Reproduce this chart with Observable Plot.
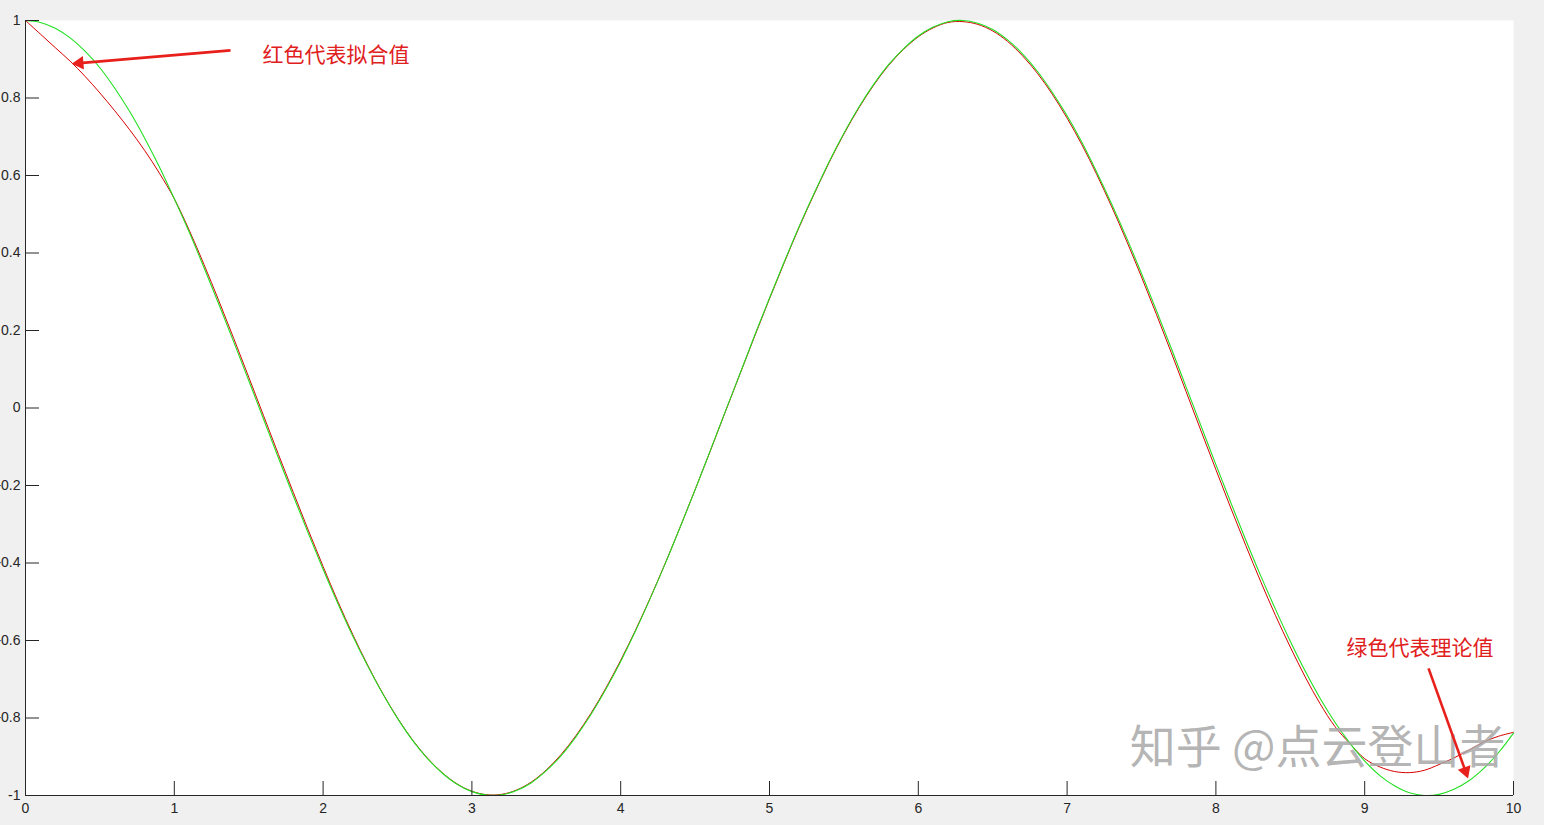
<!DOCTYPE html>
<html><head><meta charset="utf-8">
<script src="https://cdn.jsdelivr.net/npm/d3@7"></script>
<script src="https://cdn.jsdelivr.net/npm/@observablehq/plot@0.6"></script>
<style>html,body{margin:0;padding:0;background:#f0f0f0;overflow:hidden}#chart svg{display:block}</style>
</head><body><div id="chart"></div>
<script>
const xs = [0,0.1,0.2,0.3,0.4,0.5,0.6,0.7,0.8,0.9,1,1.1,1.2,1.3,1.4,1.5,1.6,1.7,1.8,1.9,2,2.1,2.2,2.3,2.4,2.5,2.6,2.7,2.8,2.9,3,3.1,3.2,3.3,3.4,3.5,3.6,3.7,3.8,3.9,4,4.1,4.2,4.3,4.4,4.5,4.6,4.7,4.8,4.9,5,5.1,5.2,5.3,5.4,5.5,5.6,5.7,5.8,5.9,6,6.1,6.2,6.3,6.4,6.5,6.6,6.7,6.8,6.9,7,7.1,7.2,7.3,7.4,7.5,7.6,7.7,7.8,7.9,8,8.1,8.2,8.3,8.4,8.5,8.6,8.7,8.8,8.9,9,9.1,9.2,9.3,9.4,9.5,9.6,9.7,9.8,9.9,10];
// green: theoretical values
const theory = [1.000,0.995,0.980,0.955,0.921,0.878,0.825,0.765,0.697,0.622,0.540,0.454,0.362,0.267,0.170,0.071,-0.029,-0.129,-0.227,-0.323,-0.416,-0.505,-0.589,-0.666,-0.737,-0.801,-0.857,-0.904,-0.942,-0.971,-0.990,-0.999,-0.998,-0.987,-0.967,-0.936,-0.897,-0.848,-0.791,-0.726,-0.654,-0.575,-0.490,-0.401,-0.307,-0.211,-0.112,-0.012,0.087,0.187,0.284,0.378,0.469,0.554,0.635,0.709,0.776,0.835,0.886,0.927,0.960,0.983,0.997,1.000,0.993,0.977,0.950,0.914,0.869,0.815,0.754,0.685,0.608,0.526,0.439,0.347,0.252,0.154,0.054,-0.046,-0.146,-0.244,-0.340,-0.432,-0.519,-0.602,-0.679,-0.749,-0.811,-0.865,-0.911,-0.948,-0.975,-0.993,-1.000,-0.997,-0.984,-0.962,-0.930,-0.889,-0.839];
// red: fitted values
const fitted = [1.000,0.965,0.930,0.895,0.856,0.813,0.767,0.718,0.665,0.606,0.540,0.459,0.370,0.276,0.179,0.080,-0.020,-0.120,-0.218,-0.315,-0.409,-0.500,-0.585,-0.664,-0.736,-0.800,-0.856,-0.903,-0.941,-0.970,-0.989,-0.998,-0.997,-0.986,-0.965,-0.934,-0.894,-0.845,-0.788,-0.723,-0.651,-0.573,-0.489,-0.400,-0.307,-0.211,-0.113,-0.013,0.086,0.185,0.282,0.376,0.467,0.552,0.633,0.707,0.774,0.833,0.884,0.925,0.958,0.981,0.995,0.997,0.990,0.973,0.946,0.909,0.864,0.810,0.748,0.679,0.602,0.519,0.431,0.338,0.242,0.143,0.042,-0.059,-0.159,-0.258,-0.354,-0.447,-0.535,-0.617,-0.694,-0.763,-0.822,-0.866,-0.905,-0.926,-0.938,-0.941,-0.935,-0.920,-0.903,-0.883,-0.862,-0.847,-0.837];
const xTicks = [0,1,2,3,4,5,6,7,8,9,10];
const yTicks = [-1,-0.8,-0.6,-0.4,-0.2,0,0.2,0.4,0.6,0.8,1];
const noteText = ["红色代表拟合值", "绿色代表理论值"];
const noteX = [1.593, 8.878];
const noteY = [0.910, -0.621];
// annotation arrows: tail -> head (head = centre of the filled arrowhead)
const arrowX1 = [1.378, 9.429];
const arrowY1 = [0.923, -0.672];
const arrowX2 = [0.363, 9.677];
const arrowY2 = [0.890, -0.937];
const arrowRotate = [-94.7, 160.1];
const watermark = "知乎 @点云登山者";

const rows = xs.map((x, i) => ({x, theory: theory[i], fitted: fitted[i]}));
const notes = noteText.map((t, i) => ({t, x: noteX[i], y: noteY[i]}));
const arrows = arrowX1.map((x1, i) => ({x1, y1: arrowY1[i], x2: arrowX2[i], y2: arrowY2[i], r: arrowRotate[i]}));
const fmt = d => String(d);
const axisFont = {fontSize: 14, fill: "#262626"};

const chart = Plot.plot({
  width: 1544, height: 825,
  marginLeft: 25, marginRight: 31, marginTop: 20, marginBottom: 30,
  style: {background: "transparent", fontFamily: "'Liberation Sans', Arial, sans-serif", fontSize: "14px", color: "#262626", overflow: "visible"},
  x: {domain: [0, 10]},
  y: {domain: [-1, 1]},
  marks: [
    Plot.frame({fill: "white", stroke: null}),
    Plot.line(rows, {x: "x", y: "fitted", stroke: "#d80000", strokeWidth: 1, curve: "catmull-rom"}),
    Plot.line(rows, {x: "x", y: "theory", stroke: "#22e022", strokeWidth: 1.1, curve: "catmull-rom"}),
    Plot.text([watermark], {frameAnchor: "bottom-right", text: d => d, dx: -8, dy: -33, fontSize: 46, fill: "#a8a8a8", fillOpacity: 0.85, textAnchor: "end", fontFamily: "'Noto Sans CJK SC', sans-serif"}),
    Plot.ruleX([0], {stroke: "#262626"}),
    Plot.ruleY([-1], {stroke: "#262626"}),
    Plot.axisX({ticks: xTicks, tickSize: -14, tickFormat: () => "", stroke: "#262626"}),
    Plot.axisX({ticks: xTicks, tickSize: 0, tickPadding: 8, tickFormat: fmt, label: null, ...axisFont}),
    Plot.axisY({ticks: yTicks, tickSize: -14, tickFormat: () => "", stroke: "#262626"}),
    Plot.axisY({ticks: yTicks, tickSize: 0, tickPadding: 5, tickFormat: fmt, label: null, ...axisFont}),
    Plot.link(arrows, {x1: "x1", y1: "y1", x2: "x2", y2: "y2", stroke: "#e8201c", strokeWidth: 2.6}),
    Plot.dot(arrows, {x: "x2", y: "y2", symbol: "triangle", r: 5, rotate: "r", fill: "#e8201c", stroke: null}),
    Plot.text(notes, {x: "x", y: "y", text: "t", textAnchor: "start", fontSize: 21, fill: "#e0201c", fontFamily: "'Noto Sans CJK SC', sans-serif"})
  ]
});
document.getElementById("chart").appendChild(chart);
</script>
</body></html>
